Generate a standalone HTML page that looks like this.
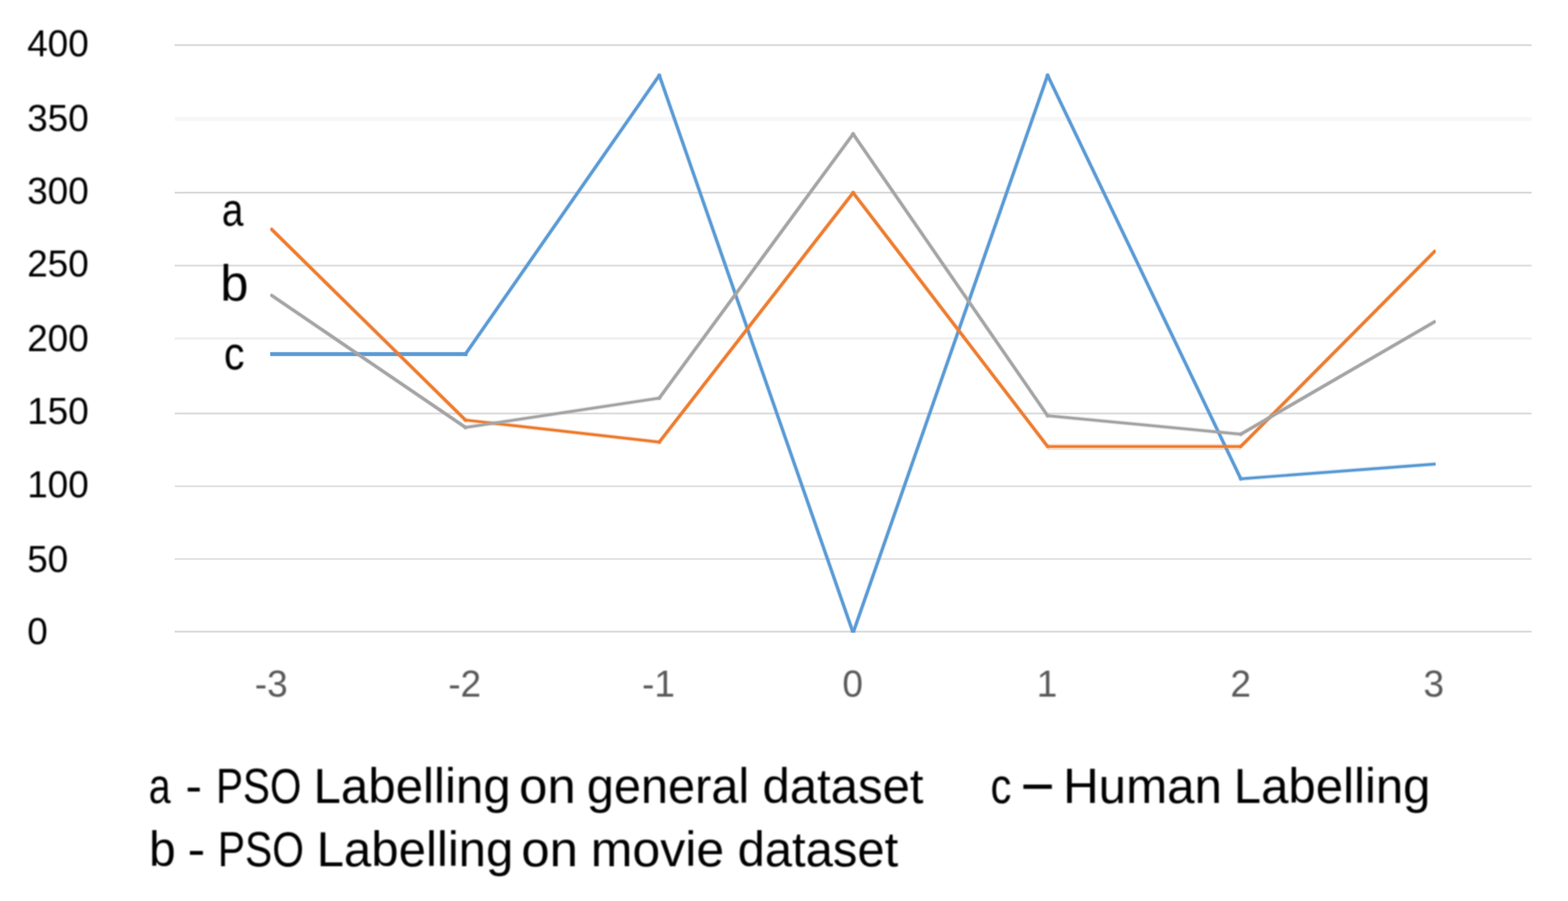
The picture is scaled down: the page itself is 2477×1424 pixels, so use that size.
<!DOCTYPE html>
<html lang="en">
<head>
<meta charset="utf-8">
<title>PSO Labelling vs Human Labelling</title>
<style>
html,body{margin:0;padding:0;background:#fff;}
body{width:2477px;height:1424px;overflow:hidden;}
svg{display:block;}
text{font-family:"Liberation Sans",sans-serif;font-kerning:none;}
.yl text{font-size:58.4px;fill:#000;}
.xl text{font-size:58.4px;fill:#595959;text-anchor:middle;}
.ser line{stroke-width:4.6;stroke-linecap:round;}
.ser .halo{stroke-width:7.4;stroke-opacity:.3;}
.ser .wide{stroke-width:9.4;stroke-opacity:.3;stroke-linecap:butt;}
.ser .low{stroke-width:3.9;}
.ser .flat{stroke-width:6.3;stroke-linecap:square;}
.tag text{fill:#000;}
.leg text{font-size:78px;fill:#000;}
</style>
</head>
<body>
<svg width="2477" height="1424" viewBox="0 0 2477 1424">
<rect width="2477" height="1424" fill="#ffffff"/>
<defs>
<filter id="soft" filterUnits="userSpaceOnUse" x="0" y="0" width="2477" height="1424"><feGaussianBlur stdDeviation="0.8"/></filter>
<clipPath id="plot"><rect x="426.8" y="60" width="1841.2" height="940"/></clipPath>
</defs>
<g class="grid">
<line x1="276" x2="2419.5" y1="998.3" y2="998.3" stroke="#dadada" stroke-width="3"/>
<line x1="276" x2="2419.5" y1="883.5" y2="883.5" stroke="#e3e3e3" stroke-width="3"/>
<line x1="276" x2="2419.5" y1="768.4" y2="768.4" stroke="#e3e3e3" stroke-width="3"/>
<line x1="276" x2="2419.5" y1="653.4" y2="653.4" stroke="#dedede" stroke-width="3"/>
<line x1="276" x2="2419.5" y1="535.0" y2="535.0" stroke="#efefef" stroke-width="3.6"/>
<line x1="276" x2="2419.5" y1="419.8" y2="419.8" stroke="#dedede" stroke-width="3"/>
<line x1="276" x2="2419.5" y1="304.4" y2="304.4" stroke="#dadada" stroke-width="3"/>
<line x1="276" x2="2419.5" y1="188.0" y2="188.0" stroke="#f7f7f7" stroke-width="6.4"/>
<line x1="276" x2="2419.5" y1="71.2" y2="71.2" stroke="#dadada" stroke-width="3"/>
</g>
<g filter="url(#soft)">
<g class="yl">
<text x="42.9" y="1017.9">0</text>
<text x="42.9" y="903.8">50</text>
<text x="42.9" y="785.8">100</text>
<text x="42.9" y="670.3">150</text>
<text x="42.9" y="555.1">200</text>
<text x="42.9" y="437.0">250</text>
<text x="42.9" y="321.9">300</text>
<text x="42.9" y="206.7">350</text>
<text x="42.9" y="88.7">400</text>
</g>
<g class="xl">
<text x="428.4" y="1100.7">-3</text>
<text x="734.1" y="1100.7">-2</text>
<text x="1040.2" y="1100.7">-1</text>
<text x="1347.0" y="1100.7">0</text>
<text x="1654.0" y="1100.7">1</text>
<text x="1960.0" y="1100.7">2</text>
<text x="2264.9" y="1100.7">3</text>
</g>
</g>
<g class="ser" clip-path="url(#plot)">
<g stroke="#5b9bd5">
<line class="halo" x1="735.3" y1="559.6" x2="1041.5" y2="119.1"/>
<line class="halo" x1="1041.5" y1="119.1" x2="1347.7" y2="1000.1"/>
<line class="halo" x1="1347.7" y1="1000.1" x2="1654.9" y2="119.1"/>
<line class="halo" x1="1654.9" y1="119.1" x2="1960.1" y2="756.7"/>
<line class="halo" x1="1960.1" y1="756.7" x2="2266.3" y2="733.5"/>
<line class="flat" x1="429.1" y1="559.6" x2="735.3" y2="559.6"/>
<line x1="735.3" y1="559.6" x2="1041.5" y2="119.1"/>
<line x1="1041.5" y1="119.1" x2="1347.7" y2="1000.1"/>
<line x1="1347.7" y1="1000.1" x2="1654.9" y2="119.1"/>
<line x1="1654.9" y1="119.1" x2="1960.1" y2="756.7"/>
<line class="low" x1="1960.1" y1="756.7" x2="2266.3" y2="733.5"/>
</g>
<g stroke="#ed7d31">
<line class="halo" x1="429.1" y1="362.5" x2="735.3" y2="663.9"/>
<line class="halo" x1="735.3" y1="663.9" x2="1041.5" y2="698.7"/>
<line class="halo" x1="1041.5" y1="698.7" x2="1347.7" y2="304.6"/>
<line class="halo" x1="1347.7" y1="304.6" x2="1654.9" y2="705.7"/>
<line class="wide" x1="1654.9" y1="706.3" x2="1960.1" y2="706.3"/>
<line class="halo" x1="1960.1" y1="705.7" x2="2266.3" y2="397.3"/>
<line x1="429.1" y1="362.5" x2="735.3" y2="663.9"/>
<line class="low" x1="735.3" y1="663.9" x2="1041.5" y2="698.7"/>
<line x1="1041.5" y1="698.7" x2="1347.7" y2="304.6"/>
<line x1="1347.7" y1="304.6" x2="1654.9" y2="705.7"/>
<line class="low" x1="1654.9" y1="705.7" x2="1960.1" y2="705.7"/>
<line x1="1960.1" y1="705.7" x2="2266.3" y2="397.3"/>
</g>
<g stroke="#a5a5a5">
<line class="halo" x1="429.1" y1="466.9" x2="735.3" y2="675.5"/>
<line class="halo" x1="735.3" y1="675.5" x2="1041.5" y2="629.2"/>
<line class="halo" x1="1041.5" y1="629.2" x2="1347.7" y2="211.8"/>
<line class="halo" x1="1347.7" y1="211.8" x2="1654.9" y2="657.0"/>
<line class="halo" x1="1654.9" y1="657.0" x2="1960.1" y2="686.2"/>
<line class="halo" x1="1960.1" y1="686.2" x2="2266.3" y2="508.6"/>
<line x1="429.1" y1="466.9" x2="735.3" y2="675.5"/>
<line class="low" x1="735.3" y1="675.5" x2="1041.5" y2="629.2"/>
<line x1="1041.5" y1="629.2" x2="1347.7" y2="211.8"/>
<line x1="1347.7" y1="211.8" x2="1654.9" y2="657.0"/>
<line class="low" x1="1654.9" y1="657.0" x2="1960.1" y2="686.2"/>
<line x1="1960.1" y1="686.2" x2="2266.3" y2="508.6"/>
</g>
</g>
<g filter="url(#soft)">
<g class="tag">
<text y="356.9" font-size="74"><tspan x="350.6" textLength="34.0" lengthAdjust="spacingAndGlyphs">a</tspan></text>
<text y="475.4" font-size="80"><tspan x="348.0" textLength="44.5" lengthAdjust="spacingAndGlyphs">b</tspan></text>
<text y="584.0" font-size="75"><tspan x="353.8" textLength="32.5" lengthAdjust="spacingAndGlyphs">c</tspan></text>
</g>
<g class="leg">
<text y="1269.2"><tspan x="234.9" textLength="34.5" lengthAdjust="spacingAndGlyphs">a</tspan> <tspan x="293.1" textLength="26.1" lengthAdjust="spacingAndGlyphs">-</tspan> <tspan x="341.2" textLength="134.9" lengthAdjust="spacingAndGlyphs">PSO</tspan> <tspan x="495.2" textLength="311.6" lengthAdjust="spacingAndGlyphs">Labelling</tspan> <tspan x="819.9" textLength="89.6" lengthAdjust="spacingAndGlyphs">on</tspan> <tspan x="926.9" textLength="256.7" lengthAdjust="spacingAndGlyphs">general</tspan> <tspan x="1204.5" textLength="254.4" lengthAdjust="spacingAndGlyphs">dataset</tspan></text>
<text y="1369.0"><tspan x="235.4" textLength="42.0" lengthAdjust="spacingAndGlyphs">b</tspan> <tspan x="296.3" textLength="28.1" lengthAdjust="spacingAndGlyphs">-</tspan> <tspan x="343.9" textLength="136.4" lengthAdjust="spacingAndGlyphs">PSO</tspan> <tspan x="500.2" textLength="310.8" lengthAdjust="spacingAndGlyphs">Labelling</tspan> <tspan x="823.4" textLength="89.6" lengthAdjust="spacingAndGlyphs">on</tspan> <tspan x="933.3" textLength="210.7" lengthAdjust="spacingAndGlyphs">movie</tspan> <tspan x="1165.3" textLength="253.7" lengthAdjust="spacingAndGlyphs">dataset</tspan></text>
<text y="1269.2"><tspan x="1564.8" textLength="32.9" lengthAdjust="spacingAndGlyphs">c</tspan> <tspan x="1617.6" y="1263.2" stroke="#000" stroke-width="1.6" textLength="43.4" lengthAdjust="spacingAndGlyphs">–</tspan> <tspan x="1679.4" y="1269.2" textLength="251.0" lengthAdjust="spacingAndGlyphs">Human</tspan> <tspan x="1949.0" textLength="310.8" lengthAdjust="spacingAndGlyphs">Labelling</tspan></text>
</g>
</g>
</svg>
</body>
</html>
